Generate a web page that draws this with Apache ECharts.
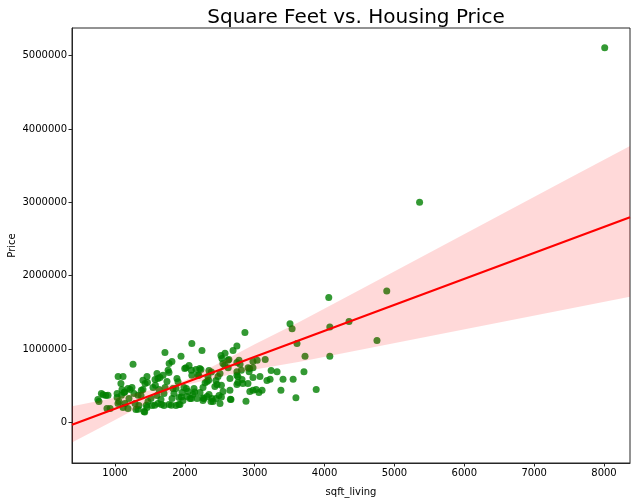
<!DOCTYPE html>
<html>
<head>
<meta charset="utf-8">
<script src="https://cdn.jsdelivr.net/npm/echarts@6/dist/echarts.min.js"></script>
<style>html,body{margin:0;padding:0;background:#fff;}#c{width:640px;height:502px;}</style>
</head>
<body>
<div id="c"></div>
<script>
const sqft = [755,770,805,830,870,885,930,900,1030,1030,1043,1045,1115,1057,1085,1100,1129,1092,1115,1143,1139,1186,1186,1200,1215,1243,1258,1272,1286,1300,1330,1330,1343,1372,1377,1400,1400,1415,1425,1430,1449,1458,1458,1464,1472,1515,1530,1544,1569,1573,1578,1601,1601,1615,1615,1630,1644,1658,1664,1688,1701,1701,1715,1716,1744,1760,1773,1775,1773,1807,1815,1816,1830,1844,1873,1873,1887,1902,1912,1916,1930,1945,1950,1959,1973,1988,1998,2015,2022,2030,2045,2060,2073,2093,2093,2100,2100,2116,2131,2141,2160,2174,2188,2200,2213,2217,2230,2245,2259,2260,2260,2274,2290,2317,2317,2330,2341,2345,2346,2374,2380,2389,2403,2430,2445,2446,2460,2475,2489,2503,2503,2517,2523,2523,2531,2546,2545,2570,2575,2618,2620,2630,2645,2646,2652,2660,2690,2745,2745,2745,2745,2745,2760,2760,2775,2790,2809,2818,2830,2860,2875,2903,2905,2920,2928,2930,2975,2975,2975,2975,3020,3035,3060,3075,3105,3150,3175,3220,3235,3320,3375,3405,3505,3535,3550,3590,3605,3705,3720,3880,4060,4075,4075,4350,4750,4890,5360,8010];
const price = [310000,283000,392000,375000,365000,187000,187000,369000,337000,392000,255000,625000,625000,283000,530000,447000,405000,369000,200000,255000,414000,460000,187000,324000,447000,474000,790000,392000,255000,173000,369000,178000,228000,365000,437000,447000,574000,146000,141000,529000,232000,624000,200000,542000,283000,324000,228000,474000,232000,583000,505000,665000,365000,255000,597000,447000,611000,310000,242000,642000,392000,228000,950000,474000,556000,710000,679000,800000,242000,232000,830000,324000,460000,392000,460000,228000,597000,551000,242000,337000,242000,900000,346000,405000,296000,474000,733000,745000,460000,351000,419000,775000,324000,710000,324000,1075000,640000,378000,460000,414000,720000,324000,642000,640000,733000,405000,720000,980000,296000,474000,332000,324000,540000,351000,556000,625000,574000,705000,378000,283000,687000,324000,283000,488000,570000,324000,515000,625000,365000,255000,665000,910000,346000,505000,870000,419000,800000,779000,940000,847000,745000,855000,435000,597000,314000,310000,980000,1040000,815000,690000,640000,515000,542000,619000,845000,790000,710000,583000,530000,1225000,285000,529000,745000,690000,733000,420000,745000,610000,435000,830000,445000,845000,405000,625000,435000,855000,570000,585000,705000,690000,435000,585000,1345000,1275000,585000,335000,1075000,690000,900000,445000,1700000,1300000,900000,1375000,1115000,1790000,3000000,5110000];
const lineX = [384.5, 8372];
const lineY = [-33800, 2796000];
const bandX = [384.5, 1000, 1500, 2000, 2500, 3000, 3644, 4500, 5500, 6500, 7500, 8372];
const bandLow = [-277000, 31000, 285000, 506000, 620000, 720000, 824000, 985000, 1173000, 1360000, 1548000, 1712000];
const bandHigh = [218000, 334000, 437000, 570000, 810000, 1065000, 1370000, 1805000, 2312000, 2820000, 3327000, 3770000];
const xTicks = [1000, 2000, 3000, 4000, 5000, 6000, 7000, 8000];
const yTicks = [0, 1000000, 2000000, 3000000, 4000000, 5000000];

const font = 'DejaVu Sans';
const chart = echarts.init(document.getElementById('c'), null, {renderer: 'canvas'});
const pts = sqft.map((x, i) => [x, price[i]]);
const bandData = bandX.map((x, i) => [x, bandLow[i], bandHigh[i]]);

chart.setOption({
  animation: false,
  backgroundColor: '#fff',
  title: {
    text: 'Square Feet vs. Housing Price',
    left: 351, top: 3, textAlign: 'center',
    textStyle: {fontFamily: font, fontSize: 20, fontWeight: 'normal', color: '#000'}
  },
  grid: {left: 72, right: 10, top: 28, bottom: 39, containLabel: false, outerBoundsMode: 'none', show: true, borderColor: '#262626', borderWidth: 1, backgroundColor: 'transparent'},
  xAxis: {
    type: 'value', min: 384.5, max: 8372,
    name: 'sqft_living', nameLocation: 'middle', nameGap: 24, nameMoveOverlap: false,
    nameTextStyle: {fontFamily: font, fontSize: 10, color: '#000'},
    splitLine: {show: false},
    axisLine: {show: true, onZero: false, lineStyle: {color: '#262626', width: 1}},
    axisTick: {show: true, length: 3.5, lineStyle: {color: '#262626'}, customValues: xTicks},
    axisLabel: {fontFamily: font, fontSize: 10, color: '#000', margin: 5, customValues: xTicks, formatter: v => String(v)}
  },
  yAxis: {
    type: 'value', min: -556000, max: 5378000,
    name: 'Price', nameLocation: 'middle', nameGap: 55, nameRotate: 90, nameMoveOverlap: false,
    nameTextStyle: {fontFamily: font, fontSize: 10, color: '#000'},
    splitLine: {show: false},
    axisLine: {show: true, onZero: false, lineStyle: {color: '#262626', width: 1}},
    axisTick: {show: true, length: 3.5, lineStyle: {color: '#262626'}, customValues: yTicks},
    axisLabel: {fontFamily: font, fontSize: 10, color: '#000', margin: 5, customValues: yTicks, formatter: v => String(v)}
  },
  series: [
    {
      type: 'scatter', data: pts, symbolSize: 7, z: 1,
      itemStyle: {color: 'green', opacity: 0.8}
    },
    {
      type: 'custom', z: 2, clip: true,
      data: [0],
      renderItem: function (params, api) {
        const up = bandData.map(d => api.coord([d[0], d[2]]));
        const lo = bandData.slice().reverse().map(d => api.coord([d[0], d[1]]));
        return {
          type: 'polygon',
          shape: {points: up.concat(lo)},
          style: {fill: 'rgba(255,0,0,0.15)'}
        };
      }
    },
    {
      type: 'line', z: 3, symbol: 'none',
      data: lineX.map((x, i) => [x, lineY[i]]),
      lineStyle: {color: 'red', width: 2.2}
    }
  ]
});
</script>
</body>
</html>
